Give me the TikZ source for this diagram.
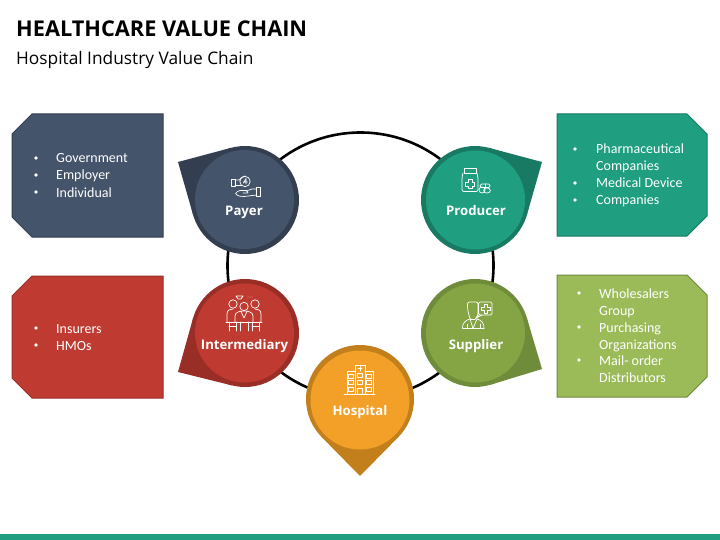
\documentclass[tikz,border=0pt]{standalone}
\usepackage{fontspec}
\setmainfont{Carlito}
\newfontfamily\headfont{Open Sans}
\definecolor{navyA}{HTML}{44546A}\definecolor{navyB}{HTML}{333F50}
\definecolor{redA}{HTML}{BF3A30}\definecolor{redB}{HTML}{992E27}
\definecolor{orgA}{HTML}{F2A027}\definecolor{orgB}{HTML}{C27F1B}
\definecolor{tealA}{HTML}{1F9F80}\definecolor{tealB}{HTML}{187A62}
\definecolor{grnA}{HTML}{85A545}\definecolor{grnB}{HTML}{6E8C3A}
\definecolor{boxG}{HTML}{9BBB59}\definecolor{boxGB}{HTML}{71893F}
\tikzset{
  boxtext/.style={text=white,font=\fontsize{14}{17}\selectfont,anchor=base west,inner sep=0pt},
  lab/.style={text=white,font=\headfont\bfseries\fontsize{13.2}{16}\selectfont,inner sep=0pt,anchor=base},
  ico/.style={draw=white,line width=0.7pt,line join=round,line cap=round,fill=none},
  ringline/.style={draw=black,line width=2.6pt,circle,inner sep=0pt,minimum size=266pt},
}
% centre x,y ; tip x,y ; outer colour ; inner colour
\newcommand{\dropshape}[8]{%
  \pgfmathsetmacro{\thA}{atan2((#4)-(#2),(#3)-(#1))}%
  \pgfmathsetmacro{\dA}{veclen((#4)-(#2),(#3)-(#1))}%
  \pgfmathsetmacro{\alA}{acos(54/\dA)}%
  \fill[#5] (#1,#2) circle[radius=54];
  \fill[#5] (#3,#4) -- ({#1+54*cos(\thA+\alA)},{#2+54*sin(\thA+\alA)}) -- (#1,#2) -- ({#1+54*cos(\thA-\alA)},{#2+54*sin(\thA-\alA)}) -- cycle;
  \fill[#6] (#7,#8) circle[radius=49.5];
}
\newcommand{\leftbox}[4]{\draw[fill=#3,draw=#4,line width=1pt] (32,#1) -- (163,#1) -- (163,#2) -- (32,#2) -- (12,{#2-20}) -- (12,{#1+20}) -- cycle;}
\newcommand{\rightbox}[4]{\draw[fill=#3,draw=#4,line width=1pt] (557,#1) -- (687,#1) -- (707,{#1+20}) -- (707,{#2-20}) -- (687,#2) -- (557,#2) -- cycle;}
\newcommand{\bul}[2]{\fill[white] (#1,#2) circle[radius=1.9];}
\begin{document}
\begin{tikzpicture}[x=1pt,y=-1pt]
\useasboundingbox (0,0) rectangle (720,540);
\fill[white] (0,0) rectangle (720,540);
\fill[tealA] (0,534) rectangle (720,540);
\node[anchor=west,inner sep=0pt,font=\headfont\bfseries\fontsize{21.75}{24}\selectfont,text=black] (title) at (16,29) {HEALTHCARE VALUE CHAIN};
\node[anchor=west,inner sep=0pt,font=\headfont\fontsize{17.3}{20}\selectfont,text=black] (subtitle) at (16,60) {Hospital Industry Value Chain};
% ring
\node[ringline] (ring) at (360.5,265.5) {};
% drops
\dropshape{245}{200}{178}{162}{navyB}{navyA}{244.5}{199.5}
\dropshape{245}{333}{178}{372}{redB}{redA}{244.5}{333}
\dropshape{360}{399}{360}{476}{orgB}{orgA}{360}{400}
\dropshape{475}{200}{542}{162}{tealB}{tealA}{475.5}{200}
\dropshape{475}{333}{542}{369}{grnB}{grnA}{475.5}{333}
% labels
\node[lab] (payer) at (244,215) {Payer};
\node[lab] (intermediary) at (244.5,349) {Intermediary};
\node[lab] (hospital) at (360,415.5) {Hospital};
\node[lab] (producer) at (476,215) {Producer};
\node[lab] (supplier) at (476,349) {Supplier};
% boxes
\leftbox{114}{237}{navyA}{navyB}
\leftbox{276}{398}{redA}{redB}
\rightbox{114}{236}{tealA}{tealB}
\rightbox{275}{397}{boxG}{boxGB}
\bul{36}{158}\bul{36}{175}\bul{36}{192}
\node[boxtext] (t1) at (56,163) {Government};
\node[boxtext] (t2) at (56,180) {Employer};
\node[boxtext] (t3) at (56,197) {Individual};
\bul{36}{328}\bul{36}{345}
\node[boxtext] (t4) at (56,333) {Insurers};
\node[boxtext] (t5) at (56,350) {HMOs};
\bul{575}{149}\bul{575}{183}\bul{575}{200}
\node[boxtext] (t6) at (596,154) {Pharmaceutical};
\node[boxtext] (t7) at (596,171) {Companies};
\node[boxtext] (t8) at (596,188) {Medical Device};
\node[boxtext] (t9) at (596,205) {Companies};
\bul{579}{293}\bul{579}{327}\bul{579}{360}
\node[boxtext] (t10) at (599,298) {Wholesalers};
\node[boxtext] (t11) at (599,315) {Group};
\node[boxtext] (t12) at (599,332) {Purchasing};
\node[boxtext] (t13) at (599,349) {Organizations};
\node[boxtext] (t14) at (599,365) {Mail- order};
\node[boxtext] (t15) at (599,382) {Distributors};
% payer icon
\draw[ico] (231,179) rectangle (235,186);
\draw[ico] (235,180) -- (239,180) .. controls (241,178) and (243,176) .. (245,176);
\draw[ico] (235,185) -- (242,185);
\draw[ico] (245,181.5) circle[radius=5.2];
\draw[ico] (243.5,183) -- (246,178.5) -- (246,184) (243.5,182) -- (247.5,182);
\draw[ico] (256.5,187.5) rectangle (260,196);
\draw[ico] (256.5,189) -- (252,189) .. controls (250,190.5) and (247,190.5) .. (245,190.5) -- (240,190.5) .. controls (238,191) and (236.5,192) .. (235.5,193.5) .. controls (238,196.5) and (241,196.5) .. (244,196.5) -- (256.5,195);
\draw[ico] (243,190.5) .. controls (247,190.5) and (249,192) .. (248,193) -- (243,193);
% intermediary icon
\draw[ico] (233,304) circle[radius=4.2];
\draw[ico] (244,306.5) circle[radius=4.2];
\draw[ico] (255,304) circle[radius=4.2];
\draw[ico] (227,322) -- (227,314) .. controls (227,310) and (230,309) .. (233,309);
\draw[ico] (261,322) -- (261,314) .. controls (261,310) and (258,309) .. (255,309);
\draw[ico] (235,322) -- (235,316) .. controls (235,312) and (240,311) .. (244,311) .. controls (248,311) and (253,312) .. (253,316) -- (253,322);
\draw[ico] (241,311.5) -- (244,318) -- (247,311.5);
\draw[ico] (226,322) -- (262,322);
\draw[ico] (229,322) -- (229,331) (236,322) -- (236,331);
\draw[ico] (252,322) -- (252,331) (259,322) -- (259,331);
\draw[ico] (240,322) -- (240,331) (248,322) -- (248,331);
\draw[ico] (229,326) -- (236,326) (252,326) -- (259,326);
\draw[ico] (236,296) -- (243,296) -- (241,299) -- (238,299) -- cycle;
\fill[white] (248,297) circle[radius=.4] (250,297) circle[radius=.4] (252,297) circle[radius=.4];
% hospital icon
\draw[ico] (344,394.5) -- (375,394.5);
\draw[ico] (347,394.5) -- (347,371) -- (355,371);
\draw[ico] (373,394.5) -- (373,371) -- (365,371);
\draw[ico] (355,394.5) -- (355,365) -- (365,365) -- (365,394.5);
\draw[ico] (360,366.5) -- (360,371) (358,368.7) -- (362,368.7);
\foreach \wx/\wy in {348.5/374,348.5/380.5,348.5/387,357.5/373,357.5/380,366.5/374,366.5/380.5,366.5/387}
  \draw[ico,line width=.55pt] (\wx,\wy) rectangle ++(5,4);
\draw[ico] (357.5,394.5) -- (357.5,388) -- (362.5,388) -- (362.5,394.5);
% producer icon
\draw[ico] (464,168) rectangle (476,173);
\draw[ico,rounded corners=2pt] (463,173) .. controls (462.5,175) .. (462,177) -- (462,191.5) -- (478,191.5) -- (478,177) .. controls (477.5,175) .. (477,173);
\draw[ico] (468,179.5) -- (472,179.5) -- (472,182) -- (474.5,182) -- (474.5,186) -- (472,186) -- (472,188.5) -- (468,188.5) -- (468,186) -- (465.5,186) -- (465.5,182) -- (468,182) -- cycle;
\draw[ico,rounded corners=1.5pt] (480,184) rectangle (490,187.5);
\draw[ico] (482,190) circle[radius=3];
\draw[ico] (487,190.5) ellipse[x radius=3.4,y radius=2.6];
\draw[ico] (485,184) -- (485,187.5);
% supplier icon
\draw[ico,rounded corners=2pt] (467.5,306) -- (467.5,302) -- (478,302) -- (478,311) .. controls (478,316) and (475,319.5) .. (473,319.5) .. controls (470,319.5) and (468,314) .. (467.5,306);
\draw[ico,rounded corners=1.5pt] (478.5,302) rectangle (492,315);
\draw[ico] (478.5,315) -- (476,318) -- (482,315);
\draw[ico] (484,304) -- (487,304) -- (487,307) -- (490,307) -- (490,310) -- (487,310) -- (487,313) -- (484,313) -- (484,310) -- (481,310) -- (481,307) -- (484,307) -- cycle;
\draw[ico] (462.5,328.5) .. controls (462,323) and (466,320) .. (470,319);
\draw[ico] (484,328.5) .. controls (484.5,323) and (481,320) .. (477,319);
\draw[ico] (462.5,328.5) -- (484,328.5);
\draw[ico] (470,319) -- (473,328.5) -- (477,319);
\draw[ico] (467,328) -- (467,324) (480,328) -- (480,324);
\end{tikzpicture}
\end{document}
